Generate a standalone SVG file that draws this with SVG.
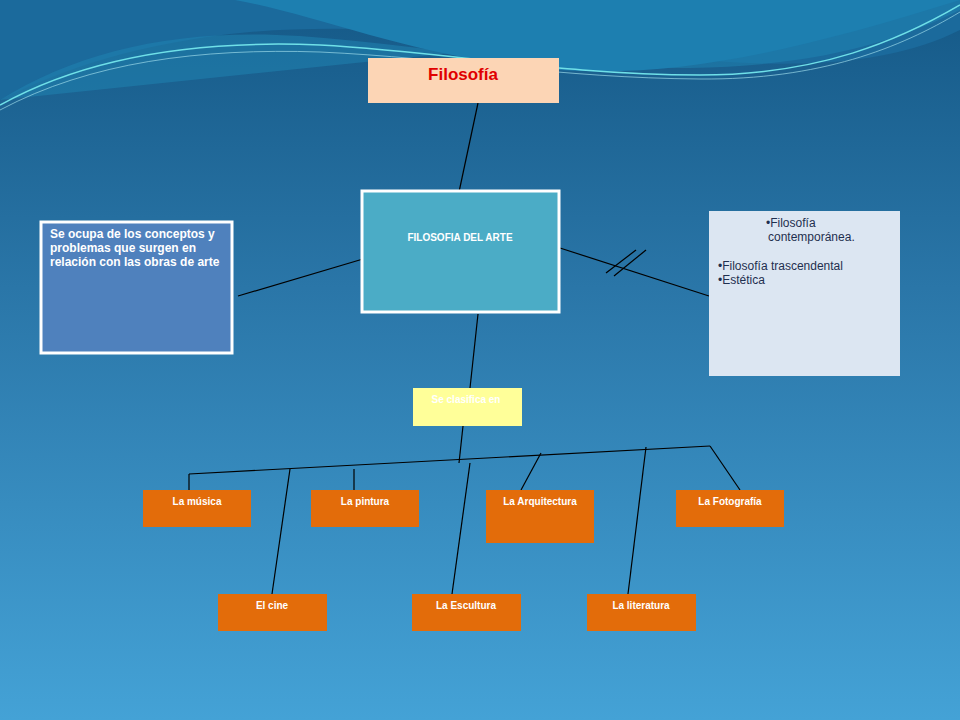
<svg xmlns="http://www.w3.org/2000/svg" width="960" height="720" viewBox="0 0 960 720">
<defs>
<linearGradient id="bg" x1="0" y1="0" x2="0" y2="1"><stop offset="0" stop-color="#155987"/><stop offset="0.4" stop-color="#2a76a8"/><stop offset="1" stop-color="#44a2d6"/></linearGradient>
<linearGradient id="w1" x1="0" y1="0" x2="1" y2="0"><stop offset="0" stop-color="#1fa3c4"/><stop offset="1" stop-color="#1b8fc0"/></linearGradient>
<style>
.ln{stroke:#000;stroke-width:1.2;fill:none}
.or{fill:#e36c0a}
.ot{font-family:"Liberation Sans",Arial,sans-serif;font-size:10px;font-weight:bold;fill:#fff;text-anchor:middle}
.rt{font-family:"Liberation Sans",Arial,sans-serif;font-size:12px;fill:#1f2f4f}
</style>
</defs>
<rect width="960" height="720" fill="url(#bg)"/>
<path d="M0,0 H960 V30 C900,60 820,70 700,60 C560,45 400,20 250,32 C140,42 60,70 0,100 Z" fill="#1b6a9c"/>
<path d="M0,100 C80,55 180,30 300,38 C440,50 560,75 700,72 C820,68 900,40 960,20 V0 H235 C320,0 560,10 960,0" fill="none"/>
<path d="M0,100 C80,50 180,28 300,36 C430,46 540,68 690,68 C820,66 900,40 960,10 L960,0 L240,0 C330,20 560,60 700,66 C800,62 900,30 960,0" fill="#1f86b4" opacity="0.5"/>
<path d="M235,0 C320,15 420,60 560,70 C680,78 800,50 960,0 Z" fill="#1d7fb0"/>
<path d="M0,105 C90,55 200,40 320,45 C450,52 560,75 700,75 C820,75 900,40 960,5" stroke="#6fe0e8" stroke-width="1.5" fill="none"/>
<path d="M0,110 C90,62 200,48 320,52 C450,58 560,78 700,79 C820,80 900,48 960,12" stroke="#9ad8e8" stroke-width="1" fill="none" opacity="0.7"/>
<g id="connectors">
<line class="ln" x1="478" y1="103" x2="459" y2="192"/>
<line class="ln" x1="363" y1="259" x2="238" y2="296"/>
<line class="ln" x1="560" y1="248" x2="709" y2="296"/>
<line class="ln" x1="606" y1="273" x2="636" y2="250"/>
<line class="ln" x1="614" y1="276" x2="646" y2="250"/>
<line class="ln" x1="478" y1="314" x2="470" y2="388"/>
<line class="ln" x1="463" y1="426" x2="459" y2="463"/>
<line class="ln" x1="189" y1="474" x2="710" y2="446"/>
<line class="ln" x1="189" y1="474" x2="189" y2="490"/>
<line class="ln" x1="290" y1="469" x2="272" y2="594"/>
<line class="ln" x1="354" y1="469" x2="354" y2="490"/>
<line class="ln" x1="470" y1="463" x2="452" y2="594"/>
<line class="ln" x1="541" y1="453" x2="521" y2="490"/>
<line class="ln" x1="646" y1="447" x2="628" y2="594"/>
<line class="ln" x1="710" y1="446" x2="740" y2="490"/>
</g>
<g id="filosofia"><rect x="368" y="58" width="191" height="45" fill="#fcd5b5"/><text x="463" y="80" font-family="Liberation Sans,Arial,sans-serif" font-size="17" font-weight="bold" fill="#e00000" text-anchor="middle">Filosofía</text></g>
<g id="arte"><rect x="362" y="191" width="197" height="121" fill="#4bacc6" stroke="#fff" stroke-width="3"/><text x="460" y="241" class="ot" font-size="11">FILOSOFIA DEL ARTE</text></g>
<g id="def"><rect x="41" y="222" width="191" height="131" fill="#4f81bd" stroke="#fff" stroke-width="3"/>
<text font-family="Liberation Sans,Arial,sans-serif" font-size="12" font-weight="bold" fill="#fff"><tspan x="50" y="238">Se ocupa de los conceptos y</tspan><tspan x="50" y="252">problemas que surgen en</tspan><tspan x="50" y="266">relación con las obras de arte</tspan></text></g>
<g id="tipos"><rect x="709" y="211" width="191" height="165" fill="#dce6f2"/>
<text class="rt"><tspan x="766" y="227">•Filosofía</tspan><tspan x="768" y="241">contemporánea.</tspan><tspan x="718" y="270">•Filosofía trascendental</tspan><tspan x="718" y="284">•Estética</tspan></text></g>
<g id="clasifica"><rect x="413" y="388" width="109" height="38" fill="#ffff99"/><text x="466" y="403" class="ot">Se clasifica en</text></g>
<g id="musica"><rect class="or" x="143" y="490" width="108" height="37"/><text x="197" y="505" class="ot">La música</text></g>
<g id="pintura"><rect class="or" x="311" y="490" width="108" height="37"/><text x="365" y="505" class="ot">La pintura</text></g>
<g id="arquitectura"><rect class="or" x="486" y="490" width="108" height="53"/><text x="540" y="505" class="ot">La Arquitectura</text></g>
<g id="fotografia"><rect class="or" x="676" y="490" width="108" height="37"/><text x="730" y="505" class="ot">La Fotografía</text></g>
<g id="cine"><rect class="or" x="218" y="594" width="109" height="37"/><text x="272" y="609" class="ot">El cine</text></g>
<g id="escultura"><rect class="or" x="412" y="594" width="109" height="37"/><text x="466" y="609" class="ot">La Escultura</text></g>
<g id="literatura"><rect class="or" x="587" y="594" width="109" height="37"/><text x="641" y="609" class="ot">La literatura</text></g>
</svg>
